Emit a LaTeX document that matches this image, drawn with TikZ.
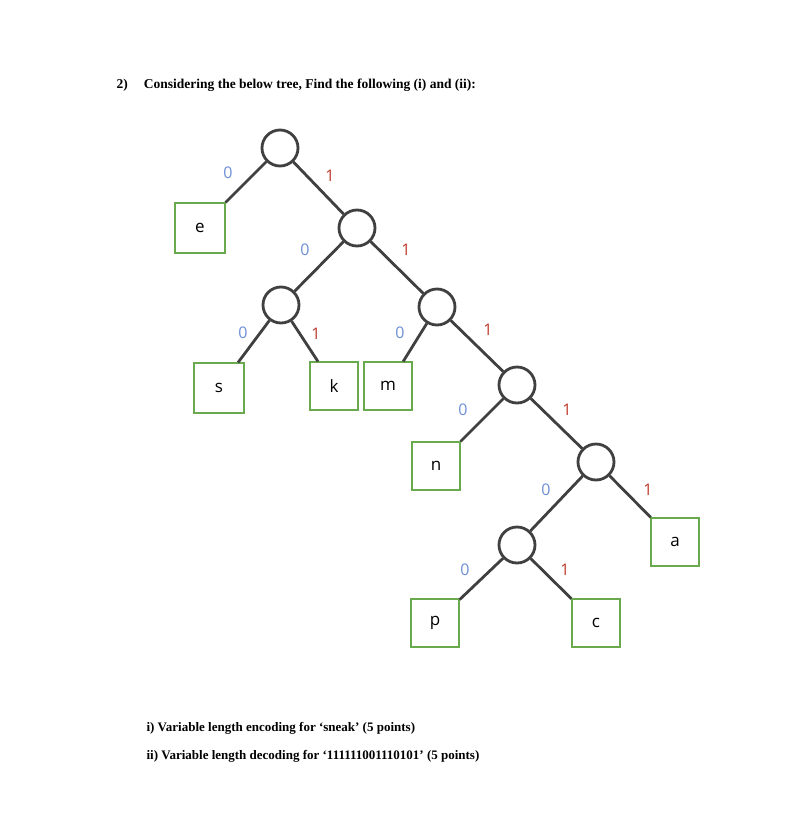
\documentclass[tikz,border=0pt]{standalone}
\usepackage{fontspec}
\setmainfont{Liberation Serif}
\newfontfamily\lab{Open Sans}
\definecolor{zb}{HTML}{6D8FD6}
\definecolor{or}{HTML}{C0392B}
\definecolor{gb}{HTML}{6AAA4F}
\begin{document}
\begin{tikzpicture}[x=1pt,y=-1pt,
  inner/.style={circle,draw=black!75,line width=2.8pt,minimum size=36pt,inner sep=0pt},
  leaf/.style={draw=gb,line width=1.1pt,minimum size=50pt,inner sep=0pt,font=\lab\fontsize{17}{17}\selectfont},
  edge/.style={draw=black!75,line width=2.8pt},
  zero/.style={text=zb,font=\lab\fontsize{16}{16}\selectfont},
  one/.style={text=or,font=\lab\fontsize{16}{16}\selectfont}]
\useasboundingbox (0,0) rectangle (811,828);
\fill[white] (0,0) rectangle (811,828);
\node[anchor=west,font=\bfseries\fontsize{13.5}{15}\selectfont] (t) at (113,85) {2)\hspace{1.2em}Considering the below tree, Find the following (i) and (ii):};
\node[inner] (r) at (280,148) {};
\node[inner] (n2) at (357,228) {};
\node[inner] (n3) at (281,305) {};
\node[inner] (n4) at (437,307) {};
\node[inner] (n5) at (517,385) {};
\node[inner] (n6) at (596,462) {};
\node[inner] (n7) at (517,545) {};
\node[leaf] (e) at (200,228) {e};
\node[leaf] (s) at (219,388) {s};
\node[leaf,minimum size=48pt] (k) at (334,386) {k};
\node[leaf,minimum size=48pt] (m) at (388,386) {m};
\node[leaf,minimum size=48pt] (n) at (436,466) {n};
\node[leaf,minimum size=48pt] (a) at (675,542) {a};
\node[leaf,minimum size=48pt] (p) at (435,623) {p};
\node[leaf,minimum size=48pt] (c) at (596,623) {c};
\foreach \u/\v in {r/e,r/n2,n2/n3,n2/n4,n3/s,n3/k,n4/m,n4/n5,n5/n,n5/n6,n6/n7,n6/a,n7/p,n7/c}
  \draw[edge] (\u) -- (\v);
\node[zero] (l1) at (228,173) {0}; \node[one] (l2) at (330,176) {1};
\node[zero] (l3) at (305,250) {0}; \node[one] (l4) at (406,250) {1};
\node[zero] (l5) at (243,333) {0}; \node[one] (l6) at (316,334) {1};
\node[zero] (l7) at (400,333) {0}; \node[one] (l8) at (488,330) {1};
\node[zero] (l9) at (463,410) {0}; \node[one] (l10) at (567,410) {1};
\node[zero] (l11) at (546,490) {0}; \node[one] (l12) at (648,490) {1};
\node[zero] (l13) at (465,570) {0}; \node[one] (l14) at (565,570) {1};
\node[anchor=west,font=\bfseries\fontsize{13}{15}\selectfont] (q1) at (143,728) {i) Variable length encoding for ‘sneak’ (5 points)};
\node[anchor=west,font=\bfseries\fontsize{13}{15}\selectfont] (q2) at (143,756) {ii) Variable length decoding for ‘111111001110101’ (5 points)};
\end{tikzpicture}
\end{document}
